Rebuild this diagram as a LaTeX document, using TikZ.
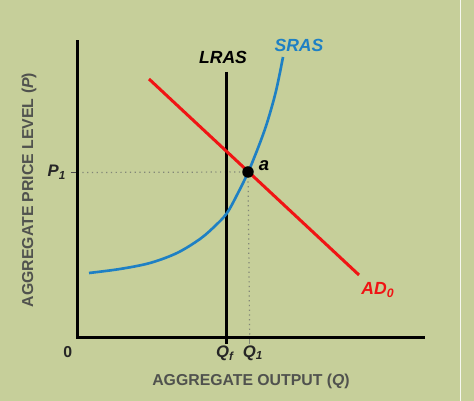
\documentclass[tikz,border=0pt]{standalone}
\usepackage{fontspec}
\setmainfont{Liberation Sans}
\definecolor{bg}{RGB}{198,207,154}
\definecolor{srasblue}{RGB}{30,128,196}
\definecolor{adred}{RGB}{240,20,20}
\definecolor{axlab}{RGB}{80,82,78}
\definecolor{dotgray}{RGB}{130,135,120}
\begin{document}
\begin{tikzpicture}[x=0.02cm,y=-0.02cm,
  axis/.style={line width=1.7pt,black},
  lras/.style={line width=1.5pt,black},
  sras/.style={line width=1.5pt,srasblue},
  adline/.style={line width=1.7pt,adred},
  guide/.style={line width=0.7pt,dotgray,dotted},
  tick/.style={line width=0.8pt},
  axlabel/.style={font=\fontsize{9}{10}\selectfont\bfseries,text=axlab,inner sep=0pt},
  curvelabel/.style={font=\fontsize{10}{11}\selectfont\bfseries\itshape,inner sep=0pt},
  ticklabel/.style={font=\fontsize{9.5}{10}\selectfont\bfseries\itshape,text=black!85,inner sep=0pt},
  dotpt/.style={circle,fill=black,inner sep=0pt}]
\useasboundingbox (0,0) rectangle (474,401);
\fill[bg] (0,0) rectangle (474,401);
\fill[white!85!bg] (459.8,0) rectangle (461.3,401);
% coordinates
\coordinate (O) at (77.7,337.3);
\coordinate (Ytop) at (77.7,42);
\coordinate (Xend) at (424,337.3);
\coordinate (Ltop) at (226.7,72);
\coordinate (Lbot) at (226.7,344.5);
\coordinate (ADs) at (149,79);
\coordinate (ADe) at (359,275);
\coordinate (P1t) at (70.5,172.5);
\coordinate (P1a) at (77.7,172.5);
\coordinate (Q1b) at (249.7,344.5);
\coordinate (Q1a) at (249.7,337.3);
\coordinate (apos) at (248,172);
% guides
\draw[guide] (P1a) -- (apos);
\draw[guide] (apos) -- (Q1a);
\draw[tick,black!70] (P1t) -- (P1a);
\draw[tick,dotgray] (Q1a) -- (Q1b);
% LRAS
\draw[lras] (Ltop) -- (Lbot);
% SRAS
\draw[sras] plot[smooth,tension=0.55] coordinates {(89,273) (120,269) (150,263) (177,253) (200,239) (215,226) (227,213) (238,193) (248,172.5) (258,148) (267,123) (276,91) (283,57)};
% AD
\draw[adline] (ADs) -- (ADe);
% axes
\draw[axis,line cap=rect] (Ytop) -- (O) -- (Xend);
\node[dotpt,minimum size=11.5*0.02cm] (a) at (apos) {};
% labels
\node[curvelabel] (lraslab) at (223,57) {LRAS};
\node[curvelabel,text=srasblue] (sraslab) at (299,45) {SRAS};
\node[curvelabel,text=adred] (adlab) at (378,290) {AD\textsubscript{0}};
\node[curvelabel,font=\fontsize{10.5}{11}\selectfont\bfseries\itshape] (alab) at (264,165.5) {a};
\node[ticklabel] (p1lab) at (57,172) {P\textsubscript{1}};
\node[ticklabel] (qflab) at (225,353) {Q\textsubscript{f}};
\node[ticklabel] (q1lab) at (253,353) {Q\textsubscript{1}};
\node[axlabel,text=black!85] (zero) at (67.7,352.5) {0};
\node[axlabel] (xlab) at (251,381) {AGGREGATE OUTPUT (\textit{Q})};
\node[axlabel,rotate=90] (ylab) at (29,190) {AGGREGATE PRICE LEVEL (\textit{P})};
\end{tikzpicture}
\end{document}
